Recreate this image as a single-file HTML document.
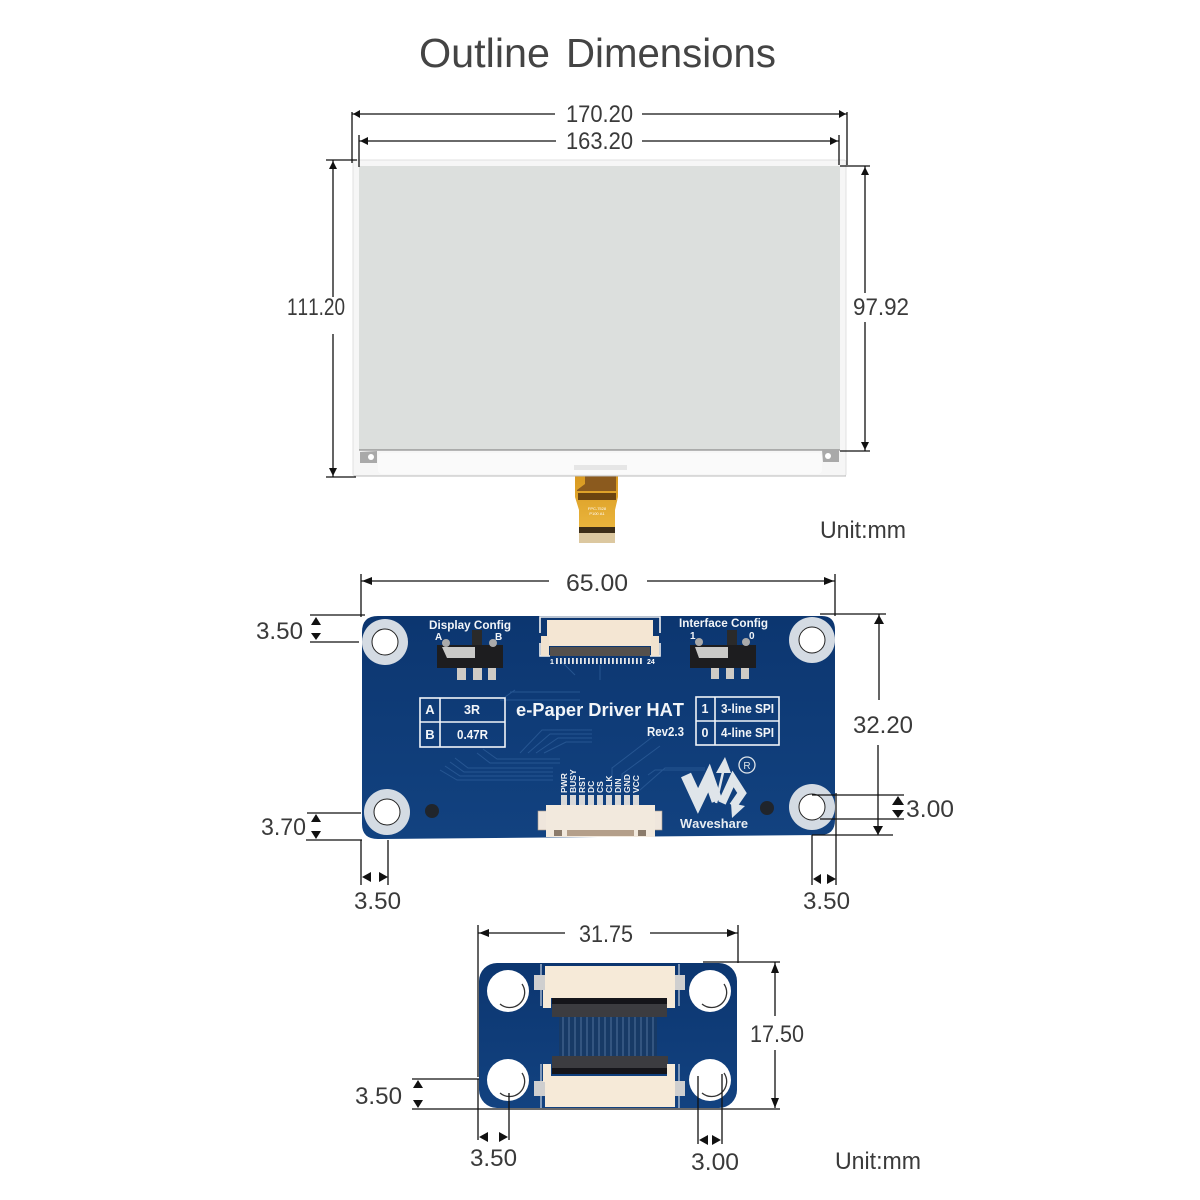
<!DOCTYPE html>
<html><head><meta charset="utf-8">
<style>
html,body{margin:0;padding:0;background:#fff;width:1200px;height:1200px;overflow:hidden}
svg{display:block}
text{font-family:"Liberation Sans",sans-serif;font-kerning:none}
.d{font-size:24px;fill:#3a3a3a}
.w{fill:#f2f5f8;font-weight:bold;font-size:12px}
.l{stroke:#111;stroke-width:1.3;fill:none}
.a{fill:#111;stroke:none}
.t{stroke:#2c5c98;stroke-width:1;fill:none;opacity:.8}
.b{stroke:#f0f4f8;stroke-width:1.6;fill:none}
.arc{stroke:#333;stroke-width:1.300;fill:none}
</style></head><body>
<svg width="1200" height="1200" viewBox="0 0 1200 1200" xmlns="http://www.w3.org/2000/svg">
<defs>
<linearGradient id="pcb" x1="0" y1="0" x2="0" y2="1"><stop offset="0" stop-color="#0c3670"/><stop offset="1" stop-color="#124280"/></linearGradient>
<linearGradient id="fpc" x1="0" y1="0" x2="0" y2="1"><stop offset="0" stop-color="#d8981f"/><stop offset="1" stop-color="#efbd45"/></linearGradient>
</defs>
<rect width="1200" height="1200" fill="#fff"/>

<text x="419" y="67" font-size="41" fill="#444" textLength="131" lengthAdjust="spacingAndGlyphs">Outline</text>
<text x="566" y="67" font-size="41" fill="#444" textLength="210" lengthAdjust="spacingAndGlyphs">Dimensions</text>

<!-- Display panel -->
<polygon points="575,474 618,474 618,497 615,510 615,543 579,543 579,510 575,497" fill="url(#fpc)"/>
<polygon points="585,475 616,475 616,491 577,491 577,490 585,484" fill="#8b5a1e"/>
<rect x="578" y="493" width="38" height="7" fill="#6b4410"/>
<rect x="579" y="527" width="36" height="6" fill="#3d2e18"/>
<rect x="579" y="533" width="36" height="10" fill="#dcc8a0"/>
<text x="597" y="510" font-size="4" fill="#fff" text-anchor="middle">FPC-7528</text>
<text x="597" y="515" font-size="4" fill="#fff" text-anchor="middle">P100 A1</text>
<rect x="353" y="160" width="493" height="316" rx="2" fill="#f6f6f6" stroke="#e0e0e0"/>
<rect x="359" y="166" width="481" height="284" fill="#dcdfdd"/>
<rect x="378" y="453" width="444" height="21" rx="4" fill="#fafafa"/>
<line x1="359" y1="450" x2="840" y2="450" stroke="#777" stroke-width="1"/>
<line x1="354" y1="476" x2="846" y2="476" stroke="#bbb" stroke-width="1"/>
<rect x="574" y="465" width="53" height="5" fill="#e6e6e6"/>
<polygon points="360,452 377,451 377,463 360,463" fill="#a9a9a9"/>
<circle cx="371" cy="457" r="3" fill="#fff"/>
<polygon points="822,450 839,450 839,462 823,462" fill="#a9a9a9"/>
<circle cx="828" cy="456" r="3" fill="#fff"/>

<!-- Dimensions display -->
<g class="l">
<path d="M352 112V163M847 112V165M359 135V167M839 135V165"/>
<path d="M352 114H555M642 114H847M359 141H556M642 141H839"/>
<path d="M326 160H357M326 477H356M333 160V297M333 334V477"/>
<path d="M840 166H870M840 451H870M865 166V293M865 322V451"/>
</g>
<g class="a">
<polygon points="353,114 360,110 360,118"/><polygon points="846,114 839,110 839,118"/>
<polygon points="360,141 368,137 368,145"/><polygon points="838,141 830,137 830,145"/>
<polygon points="333,161 329,169 337,169"/><polygon points="333,476 329,468 337,468"/>
<polygon points="865,167 861,175 869,175"/><polygon points="865,450 861,442 869,442"/>
</g>
<text class="d" x="566" y="122" textLength="67" lengthAdjust="spacingAndGlyphs">170.20</text>
<text class="d" x="566" y="149" textLength="67" lengthAdjust="spacingAndGlyphs">163.20</text>
<text class="d" x="287" y="315" textLength="58" lengthAdjust="spacingAndGlyphs">111.20</text>
<text class="d" x="853" y="315" textLength="56" lengthAdjust="spacingAndGlyphs">97.92</text>
<text class="d" x="820" y="538" textLength="86" lengthAdjust="spacingAndGlyphs">Unit:mm</text>

<!-- HAT board -->
<path d="M378 616H820Q835 615 835 630V820Q835 835 820 835L378 839Q362 839 362 824V632Q362 616 378 616Z" fill="url(#pcb)"/>
<g class="t">
<path d="M440 770L457 780H553M445 766L460 776H553M450 762L464 772H553M455 758L468 768H553"/>
<path d="M477 753L490 763H560M483 749L497 759H560"/>
<path d="M520 753L542 730H592M528 753L550 734H592M536 753L558 738H592M544 753L566 742H592"/>
<path d="M500 700H580M510 692H580M505 697L515 690"/>
<path d="M612 790V768L655 735H665M622 790V774L660 746M640 790L665 768H705"/>
<path d="M648 775L655 770H705M560 660L575 675M600 665V680"/>
</g>
<!-- holes -->
<g fill="#d4dbe3"><circle cx="385" cy="642" r="23"/><circle cx="387" cy="812" r="23"/><circle cx="812" cy="640" r="23"/><circle cx="812" cy="807" r="23"/></g>
<g fill="#fff" stroke="#222" stroke-width="1"><circle cx="385" cy="642" r="13"/><circle cx="387" cy="812" r="13"/><circle cx="812" cy="640" r="13"/><circle cx="812" cy="807" r="13"/></g>
<circle cx="432" cy="811" r="7" fill="#20252c"/><circle cx="767" cy="808" r="7" fill="#20252c"/>

<!-- top FPC connector -->
<path d="M540 633V617H660V633M540 643V656H550M660 643V656H650" stroke="#f2f2f2" stroke-width="1.6" fill="none"/>
<rect x="547" y="620" width="106" height="26" fill="#f4e6d3"/>
<rect x="541" y="636" width="8" height="20" fill="#f0e2cf"/>
<rect x="651" y="636" width="8" height="20" fill="#f0e2cf"/>
<rect x="550" y="647" width="100" height="9" fill="#55504c"/>
<line x1="556" y1="661" x2="644" y2="661" stroke="#e8e8e8" stroke-width="6" stroke-dasharray="1.800 2.200"/>
<text x="550" y="664" font-size="7" fill="#fff" font-weight="bold">1</text>
<text x="647" y="664" font-size="7" fill="#fff" font-weight="bold">24</text>

<!-- switches -->
<text class="w" x="429" y="629" textLength="82" lengthAdjust="spacingAndGlyphs">Display Config</text>
<text class="w" x="435" y="640" style="font-size:10px">A</text><text class="w" x="495" y="640" style="font-size:10px">B</text>
<rect x="472" y="630" width="10" height="15" fill="#2a2a2a"/>
<rect x="437" y="645" width="66" height="23" fill="#1d1d1f"/>
<path d="M442 647H475V658H447Z" fill="#c9c9c7"/>
<circle cx="446" cy="643" r="4" fill="#aaa"/><circle cx="493" cy="643" r="4" fill="#aaa"/>
<rect x="457" y="668" width="9" height="12" fill="#cfcbc5"/><rect x="473" y="668" width="9" height="12" fill="#cfcbc5"/><rect x="488" y="668" width="8" height="12" fill="#cfcbc5"/>
<text class="w" x="679" y="627" textLength="89" lengthAdjust="spacingAndGlyphs">Interface Config</text>
<text class="w" x="690" y="639" style="font-size:10px">1</text><text class="w" x="749" y="639" style="font-size:10px">0</text>
<rect x="727" y="630" width="10" height="15" fill="#2a2a2a"/>
<rect x="690" y="645" width="66" height="23" fill="#1d1d1f"/>
<path d="M695 647H728V658H699Z" fill="#c9c9c7"/>
<circle cx="699" cy="642" r="4" fill="#aaa"/><circle cx="746" cy="642" r="4" fill="#aaa"/>
<rect x="711" y="668" width="8" height="11" fill="#cfcbc5"/><rect x="726" y="668" width="8" height="11" fill="#cfcbc5"/><rect x="741" y="668" width="8" height="11" fill="#cfcbc5"/>

<!-- tables -->
<rect x="420" y="698" width="85" height="49" class="b"/><path d="M420 722H505M440 698V747" class="b"/>
<text class="w" x="430" y="714" text-anchor="middle" style="font-size:13px">A</text><text class="w" x="430" y="739" text-anchor="middle" style="font-size:13px">B</text>
<text class="w" x="472" y="714" text-anchor="middle" style="font-size:12.500px">3R</text><text class="w" x="457" y="739" style="font-size:12.500px" textLength="31" lengthAdjust="spacingAndGlyphs">0.47R</text>
<rect x="696" y="697" width="83" height="48" class="b"/><path d="M696 721H779M715 697V745" class="b"/>
<text class="w" x="705" y="713" text-anchor="middle" style="font-size:12.500px">1</text><text class="w" x="705" y="737" text-anchor="middle" style="font-size:12.500px">0</text>
<text class="w" x="721" y="713" style="font-size:12.500px" textLength="53" lengthAdjust="spacingAndGlyphs">3-line SPI</text><text class="w" x="721" y="737" style="font-size:12.500px" textLength="53" lengthAdjust="spacingAndGlyphs">4-line SPI</text>
<text x="516" y="716" font-size="18" font-weight="bold" fill="#f2f5f8" textLength="168" lengthAdjust="spacingAndGlyphs">e-Paper Driver HAT</text>
<text class="w" x="647" y="736" style="font-size:12.500px" textLength="37" lengthAdjust="spacingAndGlyphs">Rev2.3</text>

<!-- bottom connector -->
<g fill="#eef0f2" font-weight="bold" font-size="8.500">
<text transform="translate(567,793) rotate(-90)">PWR</text>
<text transform="translate(576,793) rotate(-90)">BUSY</text>
<text transform="translate(585,793) rotate(-90)">RST</text>
<text transform="translate(594,793) rotate(-90)">DC</text>
<text transform="translate(603,793) rotate(-90)">CS</text>
<text transform="translate(612,793) rotate(-90)">CLK</text>
<text transform="translate(621,793) rotate(-90)">DIN</text>
<text transform="translate(630,793) rotate(-90)">GND</text>
<text transform="translate(639,793) rotate(-90)">VCC</text>
</g>
<g fill="#d8d8d8"><rect x="561" y="795" width="6" height="10"/><rect x="570" y="795" width="6" height="10"/><rect x="579" y="795" width="6" height="10"/><rect x="588" y="795" width="6" height="10"/><rect x="597" y="795" width="6" height="10"/><rect x="606" y="795" width="6" height="10"/><rect x="615" y="795" width="6" height="10"/><rect x="624" y="795" width="6" height="10"/><rect x="633" y="795" width="6" height="10"/></g>
<rect x="538" y="811" width="10" height="19" fill="#efe6dc" stroke="#a89a8c" stroke-width=".6"/><rect x="652" y="811" width="10" height="19" fill="#efe6dc" stroke="#a89a8c" stroke-width=".6"/>
<rect x="546" y="805" width="109" height="32" fill="#f2e9dd"/>
<rect x="567" y="830" width="67" height="6" fill="#b49f8a"/>
<rect x="554" y="830" width="8" height="6" fill="#8b7b6b"/><rect x="638" y="830" width="8" height="6" fill="#8b7b6b"/>

<!-- logo -->
<g fill="none" stroke="#dfe5ea" stroke-linejoin="miter">
<polyline points="686,775 698,801 709,778 717,801" stroke-width="11"/>
<polyline points="722,803 733,779 742,793 733,806" stroke-width="8"/>
<path d="M716 803L724 768" stroke-width="2.500"/>
</g>
<polygon points="725,757 716,773 731,773" fill="#dfe5ea"/>
<polygon points="732,818 731,803 745,806" fill="#dfe5ea"/>
<circle cx="747" cy="765" r="8" fill="none" stroke="#dfe5ea" stroke-width="1.300"/>
<text x="747" y="769" font-size="10" fill="#dfe5ea" text-anchor="middle">R</text>
<text x="680" y="828" font-size="12.500" font-weight="bold" fill="#e8edf2" textLength="68" lengthAdjust="spacingAndGlyphs">Waveshare</text>

<!-- HAT dims -->
<g class="l">
<path d="M361 574V617M835 574V616M361 581H549M647 581H835"/>
<path d="M310 615H365M310 642H359"/>
<path d="M307 813H361M306 840H362M361 840V885M388 840V885"/>
<path d="M820 614H886M879 614V700M878 745V835M812 835H893"/>
<path d="M812 795H904M820 819H904M812 835V885M836 793V885"/>
</g>
<g class="a">
<polygon points="362,581 372,577 372,585"/><polygon points="834,581 824,577 824,585"/>
<polygon points="316,617 311,625 321,625"/><polygon points="316,640 311,633 321,633"/>
<polygon points="316,814 311,822 321,822"/><polygon points="316,839 311,831 321,831"/>
<polygon points="362,877 371,872 371,882"/><polygon points="388,877 379,872 379,882"/>
<polygon points="813,879 821,874 821,884"/><polygon points="836,879 827,874 827,884"/>
<polygon points="879,615 874,624 884,624"/><polygon points="878,835 873,826 883,826"/>
<polygon points="898,796 892,805 904,805"/><polygon points="898,818 892,810 904,810"/>
</g>
<text class="d" x="566" y="591" textLength="62" lengthAdjust="spacingAndGlyphs">65.00</text>
<text class="d" x="256" y="639" textLength="47" lengthAdjust="spacingAndGlyphs">3.50</text>
<text class="d" x="261" y="835" textLength="45" lengthAdjust="spacingAndGlyphs">3.70</text>
<text class="d" x="354" y="909" textLength="47" lengthAdjust="spacingAndGlyphs">3.50</text>
<text class="d" x="803" y="909" textLength="47" lengthAdjust="spacingAndGlyphs">3.50</text>
<text class="d" x="853" y="733" textLength="60" lengthAdjust="spacingAndGlyphs">32.20</text>
<text class="d" x="906" y="817" textLength="48" lengthAdjust="spacingAndGlyphs">3.00</text>

<!-- Adapter board -->
<rect x="479" y="963" width="258" height="145" rx="18" fill="url(#pcb)"/>
<g fill="#fff"><circle cx="508" cy="991" r="21"/><circle cx="710" cy="991" r="21"/><circle cx="508" cy="1080" r="21"/><circle cx="710" cy="1080" r="21"/></g>
<path class="arc" d="M522 984A15 15 0 0 1 500 1004M724 984A15 15 0 0 1 702 1004M522 1073A15 15 0 0 1 500 1093M724 1073A15 15 0 0 1 702 1093"/>
<path d="M559 1017H657V1056H559Z" fill="#173a66"/>
<g stroke="#4f7099" stroke-width="1"><path d="M563 1017V1056M569 1017V1056M575 1017V1056M581 1017V1056M587 1017V1056M593 1017V1056M599 1017V1056M605 1017V1056M611 1017V1056M617 1017V1056M623 1017V1056M629 1017V1056M635 1017V1056M641 1017V1056M647 1017V1056M653 1017V1056"/></g>
<path d="M541 964V1006M679 964V1006M541 1108V1064M679 1108V1064" stroke="#eef2f6" stroke-width="1"/>
<rect x="534" y="975" width="11" height="15" fill="#cfcfcf"/><rect x="674" y="975" width="11" height="15" fill="#cfcfcf"/>
<rect x="534" y="1081" width="11" height="15" fill="#cfcfcf"/><rect x="674" y="1081" width="11" height="15" fill="#cfcfcf"/>
<rect x="545" y="966" width="130" height="32" fill="#f6ead8"/>
<rect x="543" y="990" width="8" height="18" fill="#f6ead8"/><rect x="667" y="990" width="8" height="18" fill="#f6ead8"/>
<rect x="552" y="998" width="115" height="6" fill="#15151a"/>
<rect x="552" y="1004" width="115" height="13" fill="#3c3c40"/>
<rect x="552" y="1056" width="116" height="12" fill="#3c3c40"/>
<rect x="552" y="1068" width="116" height="6" fill="#15151a"/>
<rect x="545" y="1076" width="130" height="31" fill="#f6ead8"/>
<rect x="543" y="1064" width="8" height="18" fill="#f6ead8"/><rect x="667" y="1064" width="8" height="18" fill="#f6ead8"/>

<!-- Adapter dims -->
<g class="l">
<path d="M478 925V1077M738 925V963M478 933H565M650 933H738"/>
<path d="M703 962H780M775 962V1016M775 1050V1108"/>
<path d="M412 1079H479M412 1109H780"/>
<path d="M478 1079V1140M509 1093V1140M698 1076V1144M722 1074V1144"/>
</g>
<g class="a">
<polygon points="479,933 489,929 489,937"/><polygon points="737,933 727,929 727,937"/>
<polygon points="775,963 771,973 779,973"/><polygon points="775,1108 771,1098 779,1098"/>
<polygon points="418,1080 413,1088 423,1088"/><polygon points="418,1108 413,1100 423,1100"/>
<polygon points="479,1137 488,1132 488,1142"/><polygon points="508,1137 499,1132 499,1142"/>
<polygon points="699,1140 708,1135 708,1145"/><polygon points="721,1140 712,1135 712,1145"/>
</g>
<text class="d" x="579" y="942" textLength="54" lengthAdjust="spacingAndGlyphs">31.75</text>
<text class="d" x="750" y="1042" textLength="54" lengthAdjust="spacingAndGlyphs">17.50</text>
<text class="d" x="355" y="1104" textLength="47" lengthAdjust="spacingAndGlyphs">3.50</text>
<text class="d" x="470" y="1166" textLength="47" lengthAdjust="spacingAndGlyphs">3.50</text>
<text class="d" x="691" y="1170" textLength="48" lengthAdjust="spacingAndGlyphs">3.00</text>
<text class="d" x="835" y="1169" textLength="86" lengthAdjust="spacingAndGlyphs">Unit:mm</text>
</svg>
</body></html>
